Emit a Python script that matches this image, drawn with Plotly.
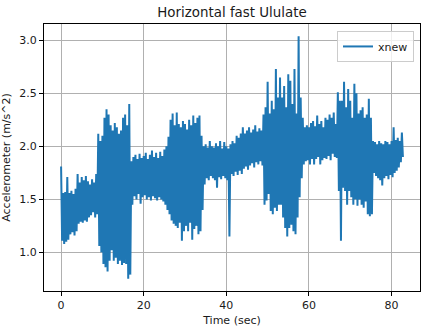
import numpy as np
import plotly.graph_objects as go

# Sample spacing of the recording (sec)
dt = 0.25

# Upper peaks of the signal, one every 0.5 s starting at t = 0
upper_peaks = [
    1.81, 1.56, 1.57, 1.71, 1.56, 1.58, 1.55, 1.60, 1.74, 1.66,
    1.71, 1.68, 1.72, 1.67, 1.64, 1.69, 1.66, 1.74, 2.12, 2.05,
    2.10, 2.27, 2.35, 2.30, 2.20, 2.15, 2.22, 2.18, 2.12, 2.15,
    2.27, 2.30, 2.20, 2.40, 1.86, 1.90, 1.92, 1.88, 1.93, 1.89,
    1.91, 1.94, 1.88, 1.92, 1.96, 1.90, 1.94, 1.89, 1.95, 1.91,
    1.97, 2.00, 2.09, 2.25, 2.31, 2.20, 2.32, 2.21, 2.18, 2.24,
    2.21, 2.16, 2.25, 2.20, 2.29, 2.22, 2.27, 2.29, 2.10, 2.00,
    2.02, 1.99, 2.05, 2.00, 1.99, 2.03, 2.00, 2.05, 1.98, 2.04,
    2.00, 1.98, 2.02, 2.05, 2.03, 2.10, 2.08, 2.12, 2.18, 2.12,
    2.15, 2.18, 2.13, 2.16, 2.20, 2.14, 2.17, 2.15, 2.30, 2.37,
    2.61, 2.31, 2.43, 2.35, 2.73, 2.46, 2.65, 2.46, 2.57, 2.37,
    2.68, 2.62, 2.40, 2.73, 2.31, 3.04, 2.46, 2.27, 2.18, 2.20,
    2.18, 2.22, 2.24, 2.19, 2.29, 2.21, 2.24, 2.18, 2.27, 2.25,
    2.30, 2.27, 2.32, 2.21, 2.51, 2.43, 2.43, 2.61, 2.37, 2.54,
    2.43, 2.27, 2.59, 2.50, 2.31, 2.34, 2.37, 2.27, 2.30, 2.45,
    2.27, 2.05, 2.04, 2.02, 2.05, 2.03, 2.02, 2.05, 2.04, 2.02,
    2.05, 2.18, 2.06, 2.08, 2.05, 2.13,
]

# Lower troughs of the signal, one every 0.5 s starting at t = 0.25
lower_troughs = [
    1.11, 1.08, 1.10, 1.12, 1.17, 1.19, 1.16, 1.20, 1.27, 1.29,
    1.28, 1.30, 1.29, 1.33, 1.35, 1.38, 1.33, 1.36, 1.06, 1.00,
    0.89, 0.86, 0.82, 0.92, 1.02, 0.92, 0.95, 0.89, 0.92, 0.88,
    0.90, 0.89, 0.75, 0.79, 1.45, 1.53, 1.50, 1.55, 1.46, 1.52,
    1.54, 1.50, 1.52, 1.49, 1.53, 1.51, 1.49, 1.52, 1.50, 1.48,
    1.45, 1.40, 1.36, 1.30, 1.27, 1.25, 1.23, 1.28, 1.11, 1.20,
    1.25, 1.20, 1.28, 1.12, 1.22, 1.25, 1.17, 1.20, 1.40, 1.64,
    1.70, 1.68, 1.72, 1.70, 1.68, 1.61, 1.71, 1.69, 1.72, 1.70,
    1.68, 1.15, 1.74, 1.72, 1.76, 1.73, 1.77, 1.74, 1.79, 1.81,
    1.78, 1.82, 1.84, 1.80, 1.85, 1.83, 1.86, 1.82, 1.45, 1.49,
    1.55, 1.39, 1.36, 1.42, 1.39, 1.45, 1.45, 1.33, 1.23, 1.15,
    1.23, 1.26, 1.20, 1.17, 1.33, 1.52, 1.70, 1.83, 1.86, 1.87,
    1.83, 1.88, 1.83, 1.88, 1.90, 1.83, 1.87, 1.89, 1.88, 1.91,
    1.87, 1.93, 1.90, 1.89, 1.58, 1.11, 1.61, 1.58, 1.45, 1.58,
    1.52, 1.45, 1.50, 1.44, 1.50, 1.45, 1.42, 1.48, 1.36, 1.34,
    1.36, 1.75, 1.72, 1.70, 1.68, 1.63, 1.70, 1.72, 1.69, 1.73,
    1.71, 1.75, 1.77, 1.80, 1.85, 1.90,
]

x_ticks = [0, 20, 40, 60, 80]
y_ticks = [1.0, 1.5, 2.0, 2.5, 3.0]

# Interleave peaks and troughs into the sampled signal
xnew = np.empty(len(upper_peaks) + len(lower_troughs))
xnew[0::2] = upper_peaks
xnew[1::2] = lower_troughs
time = np.arange(len(xnew)) * dt

# matplotlib-like 5% data margins
xpad = 0.05 * (time.max() - time.min())
ypad = 0.05 * (xnew.max() - xnew.min())
x_range = [time.min() - xpad, time.max() + xpad]
y_range = [xnew.min() - ypad, xnew.max() + ypad]

FONT = "DejaVu Sans"
TXT = "#1a1a1a"
fig = go.Figure()
fig.add_trace(go.Scatter(
    x=time, y=xnew, mode="lines", name="xnew",
    line=dict(color="#1f77b4", width=2.0),
    showlegend=True,
))

axis_common = dict(
    showline=True, mirror=True, linecolor="black", linewidth=1,
    showgrid=True, gridcolor="#b0b0b0", gridwidth=0.8,
    ticks="outside", ticklen=4, tickcolor="black", tickwidth=1,
    zeroline=False, automargin=False,
    tickfont=dict(family=FONT, size=11, color=TXT),
)

fig.update_layout(
    width=423, height=331,
    margin=dict(l=44, r=3, t=24, b=40),
    paper_bgcolor="white", plot_bgcolor="white",
    font=dict(family=FONT, size=11, color=TXT),
    title=dict(text="Horizontal fast Ululate", x=0.5, xref="paper",
               y=1 - 12 / 331, yref="container", yanchor="middle",
               xanchor="center",
               font=dict(family=FONT, size=13.4, color=TXT)),
    xaxis=dict(range=x_range, tickvals=x_ticks,
               ticktext=[str(v) for v in x_ticks],
               title=dict(text="Time (sec)", standoff=5,
                          font=dict(family=FONT, size=11, color=TXT)),
               **axis_common),
    yaxis=dict(range=y_range, tickvals=y_ticks,
               ticktext=[f"{v:.1f}" for v in y_ticks],
               title=dict(text="Accelerometer (m/s^2)", standoff=6,
                          font=dict(family=FONT, size=11, color=TXT)),
               **axis_common),
    legend=dict(x=0.984, y=0.974, xanchor="right", yanchor="top",
                bgcolor="rgba(255,255,255,0.8)", bordercolor="#cccccc",
                borderwidth=1, font=dict(family=FONT, size=11, color=TXT),
                itemwidth=30, tracegroupgap=0),
    showlegend=True,
)

fig.write_html(
    "out.html",
    config={"displayModeBar": False},
    post_script="document.body.style.margin='0';"
                "document.body.style.overflow='hidden';",
)
